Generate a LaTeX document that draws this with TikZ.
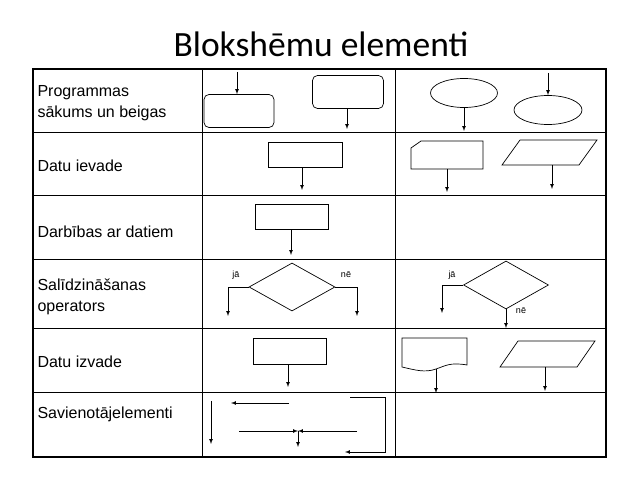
\documentclass[tikz,border=0pt]{standalone}
\usepackage{fontspec}
\setmainfont{Liberation Sans}
\newfontfamily\titlefont{Carlito}
\usetikzlibrary{shapes.geometric}
\begin{document}
\begin{tikzpicture}[x=1pt, y=-1pt, >=latex,
    box/.style={draw, line width=0.7pt, inner sep=0pt},
    flow/.style={->, line width=0.7pt},
    lbl/.style={anchor=west, font=\fontsize{16}{21}\selectfont, align=left},
    yn/.style={font=\fontsize{9}{10}\selectfont}]
\useasboundingbox (0,0) rectangle (638,478);

% --- title and table ---
\node[font=\titlefont\fontsize{35.5}{38}\selectfont] (title) at (321,44) {Blokshēmu elementi};
\foreach \y in {133,196,260,329,393} \draw[line width=1pt] (33,\y) -- (606,\y);
\draw[line width=1pt] (202,69) -- (202,457) (395,69) -- (395,457);
\draw[line width=1.8pt] (33,69) rectangle (606,457);

\node[lbl] (l1) at (34,103) {Programmas\\sākums un beigas};
\node[lbl] (l2) at (34,166) {Datu ievade};
\node[lbl] (l3) at (34,232) {Darbības ar datiem};
\node[lbl] (l4) at (34,297) {Salīdzināšanas\\operators};
\node[lbl] (l5) at (34,362) {Datu izvade};
\node[lbl] (l6) at (34,414) {Savienotājelementi};

% --- row 1: start / end ---
\node[box, rounded corners=5pt, minimum width=70pt, minimum height=33pt] (r1a) at (239,111) {};
\coordinate (r1ain) at (237,72);
\draw[flow] (r1ain) -- (r1a.north -| r1ain);
\node[box, rounded corners=5pt, minimum width=71pt, minimum height=33pt] (r1b) at (348,92) {};
\coordinate (r1bout) at (347,129);
\draw[flow] (r1b.south -| r1bout) -- (r1bout);
\node[box, ellipse, minimum width=67pt, minimum height=29pt] (e1) at (464,93) {};
\coordinate (e1out) at (464,131);
\draw[flow] (e1.south) -- (e1out);
\node[box, ellipse, minimum width=68pt, minimum height=29pt] (e2) at (548,110) {};
\coordinate (e2in) at (548,73);
\draw[flow] (e2in) -- (e2.north);

% --- row 2: input ---
\node[box, minimum width=74pt, minimum height=25pt] (in1) at (305,155) {};
\coordinate (in1out) at (302,190);
\draw[flow] (in1.south -| in1out) -- (in1out);
\draw[line width=0.7pt] (411,148) -- (421,141) -- (483,141) -- (483,169) -- (411,169) -- cycle;
\draw[flow] (447,169) -- (447,192);
\draw[line width=0.7pt] (520,140) -- (597,140) -- (579,165) -- (502,165) -- cycle;
\draw[flow] (552,165) -- (552,189);

% --- row 3: process ---
\node[box, minimum width=73pt, minimum height=25pt] (pr) at (292,217) {};
\coordinate (prout) at (291,255);
\draw[flow] (pr.south -| prout) -- (prout);

% --- row 4: decisions ---
\node[box, diamond, aspect=1.8, minimum width=86pt, minimum height=48pt] (d1) at (292,287) {};
\draw[flow] (d1.west) -- (228,287) -- (228,316);
\draw[flow] (d1.east) -- (357,287) -- (357,316);
\node[yn] (d1y) at (236,275) {jā};
\node[yn] (d1n) at (346,275) {nē};
\node[box, diamond, aspect=1.8, minimum width=85pt, minimum height=48pt] (d2) at (506,285) {};
\draw[flow] (d2.west) -- (442,285) -- (442,313);
\coordinate (d2out) at (506,328);
\draw[flow] (d2.south) -- (d2out);
\node[yn] (d2y) at (452,275) {jā};
\node[yn] (d2n) at (521,311) {nē};

% --- row 5: output ---
\node[box, minimum width=73pt, minimum height=26pt] (out1) at (290,351) {};
\coordinate (out1out) at (288,387);
\draw[flow] (out1.south -| out1out) -- (out1out);
\draw[line width=0.7pt] (402,338) -- (467,338) -- (467,365)
  .. controls (450,362) and (445,366) .. (436,369)
  .. controls (425,373) and (415,370) .. (402,367) -- cycle;
\draw[flow] (436,369) -- (436,393);
\draw[line width=0.7pt] (518,341) -- (595,341) -- (577,367) -- (500,367) -- cycle;
\draw[flow] (545,367) -- (545,391);

% --- row 6: connectors ---
\draw[flow] (211,401) -- (211,444);
\draw[flow] (289,403) -- (231,403);
\coordinate (jn) at (298,431);
\draw[flow] (239,431) -- (jn);
\draw[flow] (357,431) -- (jn);
\draw[flow] (jn) -- (298,447);
\draw[flow] (350,397) -- (385,397) -- (385,452) -- (345,452);
\end{tikzpicture}
\end{document}
